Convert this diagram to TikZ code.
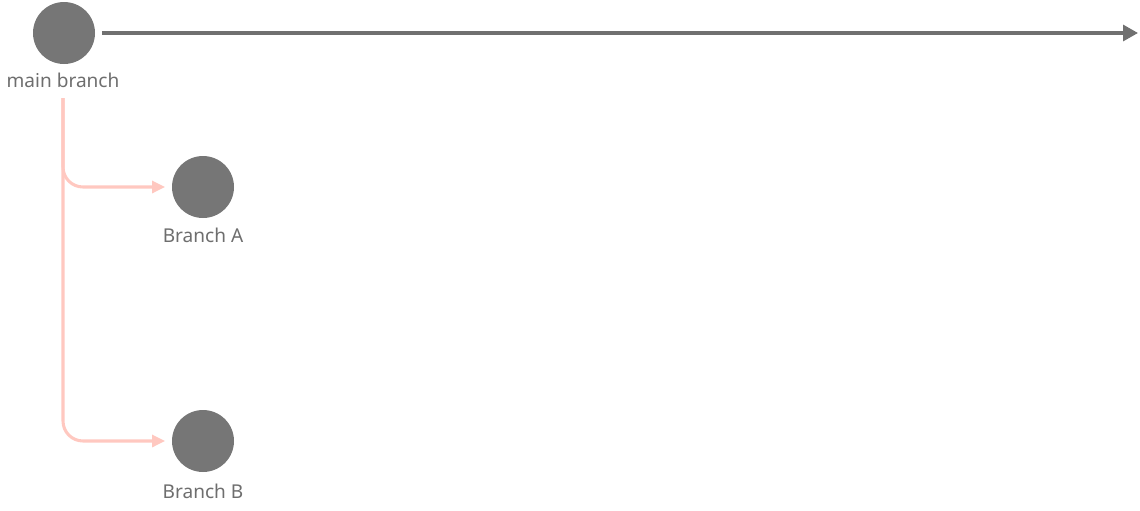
\documentclass[tikz,border=0pt]{standalone}
\usepackage{fontspec}
\setmainfont{Noto Sans}
\usetikzlibrary{arrows.meta}
\definecolor{dotgray}{HTML}{767676}
\definecolor{txtgray}{HTML}{6E6E6E}
\definecolor{linegray}{HTML}{707070}
\definecolor{pinkline}{HTML}{FFC8C0}
\tikzset{
  dot/.style={circle, fill=dotgray, draw=none, minimum size=46.5pt, inner sep=0pt},
  lbl/.style={font=\fontsize{14.3pt}{16pt}\selectfont, text=txtgray, inner sep=0pt},
  mainarrow/.style={draw=linegray, line width=2.4pt, -{Triangle[length=11.25pt,width=12pt]}},
  brancharrow/.style={draw=pinkline, line width=2.3pt, rounded corners=15pt, -{Triangle[length=9.75pt,width=9pt]}, shorten >=5pt},
}
\begin{document}
\begin{tikzpicture}[x=0.75pt,y=-0.75pt]
\useasboundingbox (0,0) rectangle (1140,511);
\node[dot] (main) at (64,33) {};
\node[lbl] (mainlbl) at (63,80) {main branch};
\node[dot] (A) at (203,187) {};
\node[lbl] (Albl) at (203,235) {Branch A};
\node[dot] (B) at (203,441) {};
\node[lbl] (Blbl) at (203,491) {Branch B};
\coordinate (mainend) at (1138,33);
\coordinate (trunk) at (63,98);
\draw[mainarrow, shorten <=5pt] (main) -- (mainend);
\draw[brancharrow] (trunk) |- (B);
\draw[brancharrow] (trunk) |- (A);
\end{tikzpicture}
\end{document}
